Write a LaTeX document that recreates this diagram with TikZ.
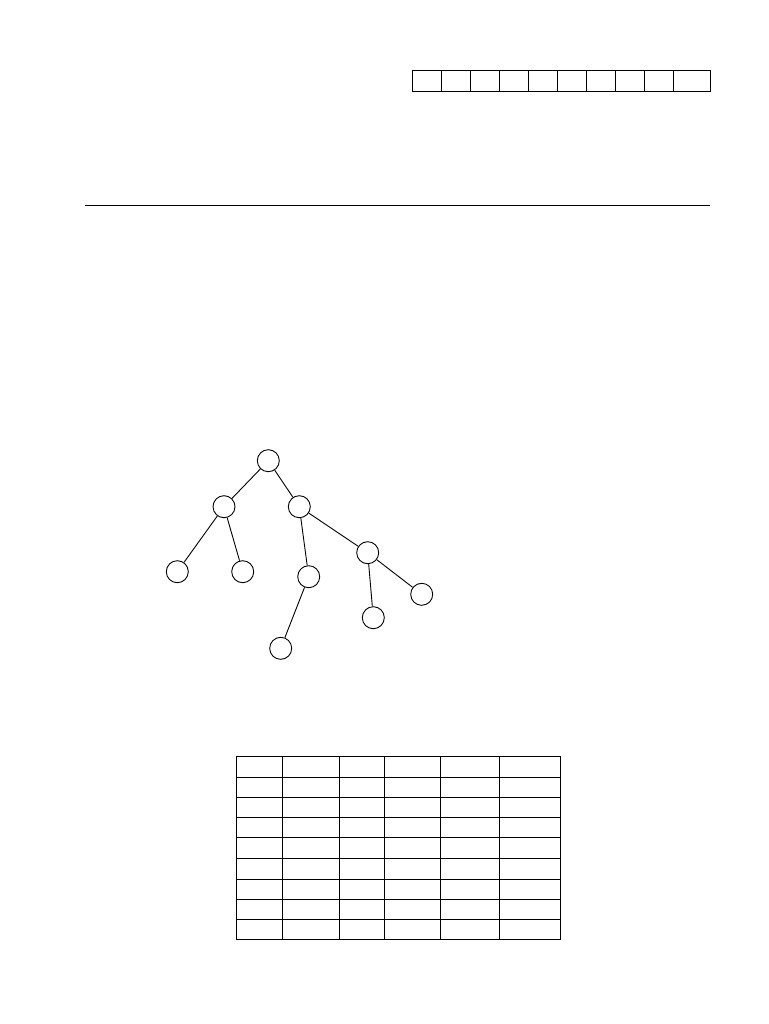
\documentclass[tikz,border=0pt]{standalone}

\begin{document}
\begin{tikzpicture}[x=1pt,y=-1pt,line width=0.9pt]
          \tikzstyle{vertex}=[circle,draw,minimum size=22pt,inner sep=0pt]
          \useasboundingbox (0,0) rectangle (768,1024);
          % row of boxes
          \draw (412,70.7) rectangle (710,91.7);
          \foreach \x in {441.3,470.7,499.3,528.3,557.3,586.7,615.7,644.3,673.3}
              \draw (\x,70.7) -- (\x,91.7);
          \draw (85,205) -- (710,205);
          % tree
          \node[vertex] (r) at (268.3,460.7) {};
          \node[vertex] (a) at (224,506.7) {};
          \node[vertex] (b) at (299.3,506.7) {};
          \node[vertex] (aa) at (177.3,571.7) {};
          \node[vertex] (ab) at (242.7,571.7) {};
          \node[vertex] (ba) at (308.7,576.7) {};
          \node[vertex] (bb) at (367.7,552.7) {};
          \node[vertex] (baa) at (280.7,648.3) {};
          \node[vertex] (bba) at (373.3,617.7) {};
          \node[vertex] (bbb) at (421.7,594.3) {};
          \foreach \u/\v in {r/a,r/b,a/aa,a/ab,b/ba,b/bb,ba/baa,bb/bba,bb/bbb}
              \draw (\u) -- (\v);
          % table
          \draw (236.7,756) rectangle (560.7,939);
          \foreach \x in {282,339.3,384,440.7,499}
              \draw (\x,756) -- (\x,939);
          \foreach \y in {777,797,817,837.7,858.3,879,899,919}
              \draw (236.7,\y) -- (560.7,\y);
      \end{tikzpicture}
\end{document}
